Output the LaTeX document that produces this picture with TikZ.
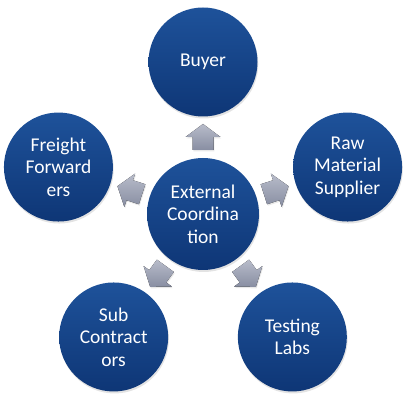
\documentclass[tikz,border=0pt]{standalone}
\usepackage{fontspec}
\setmainfont{Carlito}
\usetikzlibrary{shadows,calc}
\definecolor{bluetop}{RGB}{30,82,154}
\definecolor{bluebot}{RGB}{14,54,118}
\definecolor{arrtop}{RGB}{184,188,202}
\definecolor{arrbot}{RGB}{136,142,162}
\tikzset{
  bubble/.style={circle, minimum size=#1, inner sep=0pt, align=center,
    text=white, font=\fontsize{19.5}{22.5}\selectfont,
    top color=bluetop, bottom color=bluebot, draw=none,
    drop shadow={opacity=0.22, shadow xshift=0.8pt, shadow yshift=-2pt}},
  blockarrow/.style={top color=arrtop, bottom color=arrbot, draw=none,
    drop shadow={opacity=0.18, shadow xshift=0.8pt, shadow yshift=-1.5pt}}
}
\begin{document}
\begin{tikzpicture}[x=1pt,y=1pt]
\useasboundingbox (0,0) rectangle (406,410);
\coordinate (C) at (203,196);
% block arrows (center -> outer)
\foreach \a in {90,18,-54,-126,162}{
  \begin{scope}[shift={(C)}, rotate=\a]
    \fill[blockarrow] (64,-10.5) -- (77,-10.5) -- (77,-17.5) -- (90,0)
      -- (77,17.5) -- (77,10.5) -- (64,10.5) -- cycle;
  \end{scope}
}
\node[bubble=112pt] (center) at (C) {External\\Coordina\\tion};
\node[bubble=109pt] (buyer) at ($(C)+(90:152)$) {Buyer};
\node[bubble=109pt] (raw) at ($(C)+(18:152)$) {Raw\\Material\\Supplier};
\node[bubble=109pt] (test) at ($(C)+(-54:152)$) {Testing\\Labs};
\node[bubble=109pt] (sub) at ($(C)+(-126:152)$) {Sub\\Contract\\ors};
\node[bubble=109pt] (freight) at ($(C)+(162:152)$) {Freight\\Forward\\ers};
\end{tikzpicture}
\end{document}
